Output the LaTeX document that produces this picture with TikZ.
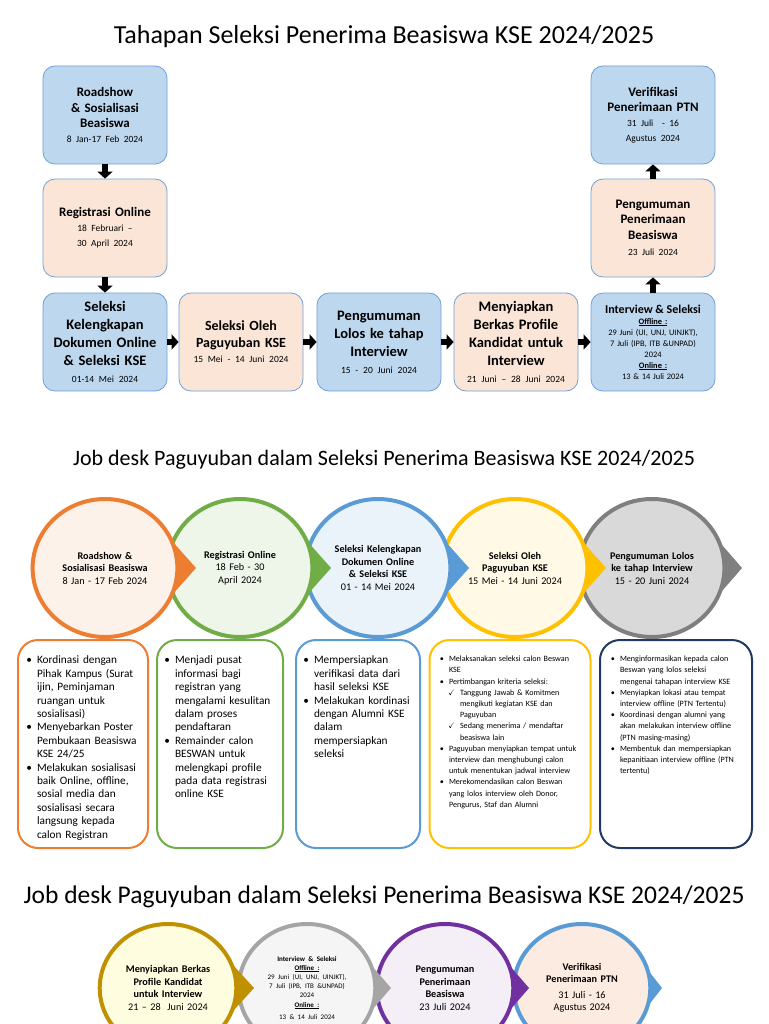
\documentclass[tikz,border=0pt]{standalone}
\usepackage{fontspec}
\setmainfont{Carlito}
\usepackage{amssymb}
\usepackage{enumitem}
\setlist{leftmargin=9pt,itemsep=0pt,topsep=0pt,parsep=0pt,partopsep=0pt}
\setlist[itemize,1]{label=\textbullet}
\setlist[itemize,2]{label=\checkmark,leftmargin=11pt}
\usetikzlibrary{arrows.meta,shapes.geometric}

\definecolor{kblue}{HTML}{BDD7EE}
\definecolor{kpeach}{HTML}{FBE5D6}
\definecolor{kedge}{HTML}{6F9FD8}
\definecolor{korange}{HTML}{ED7D31}
\definecolor{kgreen}{HTML}{70AD47}
\definecolor{ksky}{HTML}{5B9BD5}
\definecolor{kgold}{HTML}{FFC000}
\definecolor{kgray}{HTML}{7F7F7F}
\definecolor{knavy}{HTML}{1F3864}
\definecolor{kolive}{HTML}{BF9000}
\definecolor{klgray}{HTML}{A5A5A5}
\definecolor{kpurple}{HTML}{7030A0}

\tikzset{
  tahap/.style={draw=kedge,thick,rounded corners=12pt,minimum width=124pt,
    minimum height=98pt,text width=106pt,align=center,inner sep=2pt,
    font=\fontsize{13}{15.5}\selectfont},
  blue/.style={tahap,fill=kblue},
  peach/.style={tahap,fill=kpeach},
  blok/.style={line width=6pt,-{Triangle[length=7pt,width=15pt]}},
  tugas/.style={draw=#1,line width=2pt,rounded corners=20pt,minimum height=208pt},
  isi/.style={anchor=north,align=left,font=\fontsize{11.3}{13.4}\selectfont},
  kecil/.style={anchor=north,align=left,font=\fontsize{8.1}{11.2}\selectfont},
  judul/.style={font=\fontsize{#1}{#1}\selectfont}
}
\newcommand\tgl[1]{{\fontsize{9.5}{12}\selectfont #1}}

% teardrop step: x, y, rx, ry, tip, border, fill, name, text
\newcommand\tetes[9]{
  \fill[#6] ({#1+0.71*#3},{#2-0.72*#4}) -- ({#1+#5},#2) -- ({#1+0.71*#3},{#2+0.72*#4}) -- cycle;
  \node[ellipse,draw=#6,fill=#7,line width=4pt,minimum width={2*#3},minimum height={2*#4},
    align=center,text width={1.45*#3},font=\fontsize{10.2}{12.5}\selectfont] (#8) at (#1,#2) {#9};
}

\begin{document}
\hyphenpenalty=10000 \exhyphenpenalty=10000
\begin{tikzpicture}[x=1pt,y=-1pt]
\useasboundingbox (0,0) rectangle (768,1024);
\clip (0,0) rectangle (768,1024);

% ---------- alur tahapan ----------
\node[judul=26] (t1) at (384,37) {Tahapan Seleksi Penerima Beasiswa KSE 2024/2025};

\node[blue,text width=92pt] (roadshow) at (105,115) {\textbf{Roadshow \& Sosialisasi Beasiswa}\\[-1pt]\tgl{8 Jan-17 Feb 2024}};
\node[peach] (registrasi) at (105,228) {\textbf{Registrasi Online}\\[-1pt]\tgl{18 Februari -- 30 April 2024}};
\node[blue,font=\fontsize{14.5}{18}\selectfont] (kelengkapan) at (105,342) {\textbf{Seleksi Kelengkapan Dokumen Online \& Seleksi KSE}\\[-1pt]\tgl{01-14 Mei 2024}};
\node[peach,font=\fontsize{14}{17}\selectfont] (paguyuban) at (241,342) {\textbf{Seleksi Oleh Paguyuban KSE}\\[-2pt]\tgl{15 Mei - 14 Juni 2024}};
\node[blue,font=\fontsize{14.5}{18}\selectfont] (lolos) at (379,342) {\textbf{Pengumuman Lolos ke tahap Interview}\\[-1pt]\tgl{15 - 20 Juni 2024}};
\node[peach,text width=112pt,font=\fontsize{14.5}{18}\selectfont] (berkas) at (516,342) {\textbf{Menyiapkan Berkas Profile Kandidat untuk Interview}\\[-1pt]\tgl{\mbox{21 Juni -- 28 Juni 2024}}};
\node[blue,text width=118pt,font=\fontsize{8.4}{11}\selectfont] (interview) at (653,342) {{\fontsize{12}{14}\selectfont\textbf{Interview \& Seleksi}}\\\underline{\textbf{Offline :}}\\29 Juni (UI, UNJ, UINJKT),\\7 Juli (IPB, ITB \&UNPAD)\\2024\\\underline{\textbf{Online :}}\\13 \& 14 Juli 2024};
\node[peach,text width=96pt] (penerimaan) at (653,228) {\textbf{Pengumuman Penerimaan Beasiswa}\\[1pt]\tgl{23 Juli 2024}};
\node[blue,text width=100pt] (verifikasi) at (653,115) {\textbf{Verifikasi Penerimaan PTN}\\[-1pt]\tgl{31 Juli \ - 16 Agustus 2024}};

\draw[blok] (roadshow) -- (registrasi);
\draw[blok] (registrasi) -- (kelengkapan);
\draw[blok] (kelengkapan) -- (paguyuban);
\draw[blok] (paguyuban) -- (lolos);
\draw[blok] (lolos) -- (berkas);
\draw[blok] (berkas) -- (interview);
\draw[blok] (interview) -- (penerimaan);
\draw[blok] (penerimaan) -- (verifikasi);

% ---------- job desk 1 ----------
\node[judul=22] (t2) at (384,460) {Job desk Paguyuban dalam Seleksi Penerima Beasiswa KSE 2024/2025};

\fill[kgray!85!black] (700,530) -- (736,567) -- (700,604) -- cycle;
\tetes{652}{568}{66}{69}{90}{kgray}{black!15}{c5}{\textbf{Pengumuman Lolos ke tahap Interview}\\15 - 20 Juni 2024}
\tetes{515}{568}{66}{69}{91}{kgold}{kgold!10}{c4}{\textbf{Seleksi Oleh Paguyuban KSE}\\15 Mei - 14 Juni 2024}
\tetes{378}{568}{66}{69}{91}{ksky}{ksky!12}{c3}{\textbf{Seleksi Kelengkapan Dokumen Online \& Seleksi KSE}\\01 - 14 Mei 2024}
\tetes{240}{568}{66}{69}{91}{kgreen}{kgreen!12}{c2}{\textbf{Registrasi Online}\\18 Feb - 30 April 2024}
\tetes{105}{568}{66}{69}{91}{korange}{korange!10}{c1}{\textbf{Roadshow \& Sosialisasi Beasiswa}\\8 Jan - 17 Feb 2024}

\node[tugas=korange,minimum width=130pt] (b1) at (83,744) {};
\node[tugas=kgreen,minimum width=126pt] (b2) at (220,744) {};
\node[tugas=ksky,minimum width=124pt] (b3) at (358,744) {};
\node[tugas=kgold,minimum width=161pt] (b4) at (510,744) {};
\node[tugas=knavy,minimum width=152pt] (b5) at (676,744) {};

\node[isi,text width=110pt] at ([yshift=-8pt]b1.north) {\begin{itemize}
\item Kordinasi dengan Pihak Kampus (Surat ijin, Peminjaman ruangan untuk sosialisasi)
\item Menyebarkan Poster Pembukaan Beasiswa KSE 24/25
\item Melakukan sosialisasi baik Online, offline, sosial media dan sosialisasi secara langsung kepada calon Registran
\end{itemize}};
\node[isi,text width=108pt] at ([yshift=-8pt]b2.north) {\begin{itemize}
\item Menjadi pusat informasi bagi registran yang mengalami kesulitan dalam proses pendaftaran
\item Remainder calon BESWAN untuk melengkapi profile pada data registrasi online KSE
\end{itemize}};
\node[isi,text width=106pt] at ([yshift=-8pt]b3.north) {\begin{itemize}
\item Mempersiapkan verifikasi data dari hasil seleksi KSE
\item Melakukan kordinasi dengan Alumni KSE dalam mempersiapkan seleksi
\end{itemize}};
\node[kecil,text width=140pt] at ([yshift=-8pt]b4.north) {\begin{itemize}
\item Melaksanakan seleksi calon Beswan KSE
\item Pertimbangan kriteria seleksi:
\begin{itemize}
\item Tanggung Jawab \& Komitmen mengikuti kegiatan KSE dan Paguyuban
\item Sedang menerima / mendaftar beasiswa lain
\end{itemize}
\item Paguyuban menyiapkan tempat untuk interview dan menghubungi calon untuk menentukan jadwal interview
\item Merekomendasikan calon Beswan yang lolos interview oleh Donor, Pengurus, Staf dan Alumni
\end{itemize}};
\node[kecil,text width=130pt] at ([yshift=-8pt]b5.north) {\begin{itemize}
\item Menginformasikan kepada calon Beswan yang lolos seleksi mengenai tahapan interview KSE
\item Menyiapkan lokasi atau tempat interview offline (PTN Tertentu)
\item Koordinasi dengan alumni yang akan melakukan interview offline (PTN masing-masing)
\item Membentuk dan mempersiapkan kepanitiaan interview offline (PTN tertentu)
\end{itemize}};

% ---------- job desk 2 ----------
\node[judul=25.5] (t3) at (384,897) {Job desk Paguyuban dalam Seleksi Penerima Beasiswa KSE 2024/2025};

\tetes{582}{988}{62}{64}{80}{ksky}{korange!15}{d4}{\textbf{Verifikasi Penerimaan PTN}\\[3pt]31 Juli - 16 Agustus 2024}
\tetes{445}{988}{62}{64}{84}{kpurple}{kpurple!8}{d3}{\textbf{Pengumuman Penerimaan Beasiswa}\\23 Juli 2024}
\tetes{307}{988}{62}{64}{84}{klgray}{black!4}{d2}{{\fontsize{7}{9.2}\selectfont\textbf{Interview \& Seleksi}\\\underline{\textbf{Offline :}}\\29 Juni (UI, UNJ, UINJKT),\\7 Juli (IPB, ITB \&UNPAD)\\2024\\\underline{\textbf{Online :}}\\13 \& 14 Juli 2024}}
\tetes{168}{988}{62}{64}{86}{kolive}{yellow!12}{d1}{\textbf{Menyiapkan Berkas Profile Kandidat untuk Interview}\\\mbox{21 -- 28 \ Juni 2024}}
\end{tikzpicture}
\end{document}
